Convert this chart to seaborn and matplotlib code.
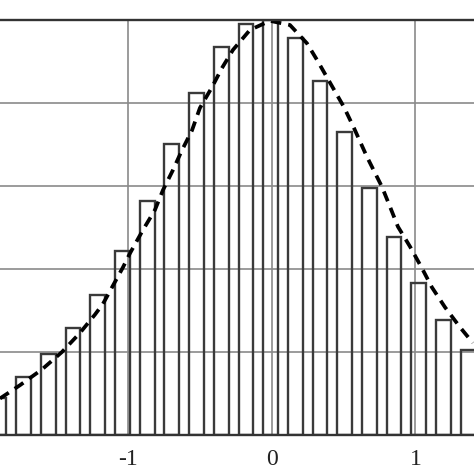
import numpy as np
import pandas as pd
import matplotlib.pyplot as plt
import seaborn as sns

# histogram bins (centres) and bar heights in grid units
bin_centers = [-1.896, -1.724, -1.553, -1.381, -1.209, -1.038, -0.866, -0.694,
               -0.523, -0.351, -0.179, -0.007, 0.164, 0.336, 0.508, 0.679,
               0.851, 1.023, 1.194, 1.366]
bar_heights = [0.45, 0.70, 0.98, 1.29, 1.69, 2.22, 2.82, 3.51, 4.12, 4.67,
               4.95, 5.00, 4.78, 4.27, 3.65, 2.98, 2.38, 1.83, 1.39, 1.02]

# dashed fitted curve
curve_x = [-1.889, -1.750, -1.597, -1.458, -1.333, -1.229, -1.173, -1.034,
           -0.985, -0.895, -0.812, -0.756, -0.687, -0.624, -0.554, -0.499,
           -0.415, -0.346, -0.269, -0.151, -0.012, 0.127, 0.245, 0.315,
           0.503, 0.572, 0.663, 0.767, 0.823, 0.878, 0.962, 1.045, 1.114,
           1.205, 1.309, 1.399]
curve_y = [0.44, 0.60, 0.79, 1.00, 1.23, 1.45, 1.58, 2.02, 2.19, 2.47, 2.71,
           2.95, 3.19, 3.43, 3.67, 3.94, 4.19, 4.42, 4.64, 4.88, 4.99, 4.94,
           4.72, 4.52, 3.95, 3.70, 3.35, 2.99, 2.75, 2.51, 2.27, 2.01, 1.78,
           1.54, 1.30, 1.11]

x_ticks = [-1, 0, 1]
x_tick_labels = ['-1', '0', '1']

sns.set_theme(style="whitegrid")
plt.rcParams['font.family'] = ['Liberation Serif', 'DejaVu Serif']

fig = plt.figure(figsize=(4.74, 4.74), dpi=100)
ax = fig.add_axes([0, 0.0823, 1, 0.8755])

width = 0.1717
centers = np.array(bin_centers)
edges = list(np.append(centers - width / 2, centers[-1] + width / 2))

df_bars = pd.DataFrame({'x': bin_centers, 'h': bar_heights})
sns.histplot(data=df_bars, x='x', weights='h', bins=edges, shrink=0.6,
             fill=False, color='#3a3a3a', linewidth=1.7, ax=ax)
sns.lineplot(x=curve_x, y=curve_y, color='black', linewidth=2.7,
             linestyle=(0, (2.8, 1.9)), ax=ax)

ax.set_xlim(-1.889, 1.407)
ax.set_ylim(0, 5)
ax.set_xticks(x_ticks)
ax.set_xticklabels(x_tick_labels, fontsize=17, color='#222222')
ax.set_yticks(range(6))
ax.set_yticklabels([])
ax.tick_params(length=0, pad=10)
ax.set_xlabel('')
ax.set_ylabel('')
ax.grid(True, color='#8a8a8a', linewidth=1.2)

for side in ['left', 'right']:
    ax.spines[side].set_visible(False)
for side in ['top', 'bottom']:
    ax.spines[side].set_color('#333333')
    ax.spines[side].set_linewidth(1.7)

fig.savefig('out.png', dpi=100)
